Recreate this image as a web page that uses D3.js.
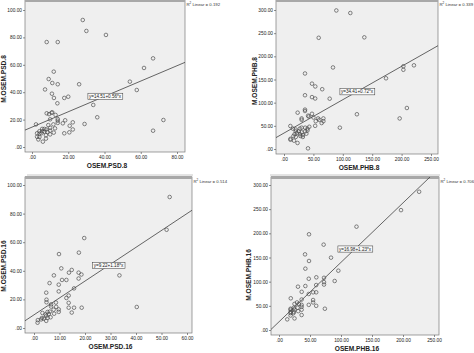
<!DOCTYPE html>
<html>
<head>
<meta charset="utf-8">
<script src="https://d3js.org/d3.v7.min.js"></script>
<style>
  body { margin: 0; background: #fff; }
  svg { display: block; font-family: "Liberation Sans", Arial, sans-serif; }
  .tick text { font-size: 4.8px; fill: #222; }
  .tick line, .domain { stroke: #444; stroke-width: 0.6; }
</style>
</head>
<body>
<div id="chart"></div>
<script>
// Data
const psd8X = [28,30,40.8,8.1,14.2,66.8,61.8,12,9.2,11.2,14.2,26,54,57.8,7.2,11,12.1,17.8,20,14,33.8,36,72.5,66.8,29,2.2,8.1,9.4,10.8,11.2,13,10,14.2,14.2,14.2,18.3,22.5,17,11.8,20.8,22.5,10,12.7,5.6,6.8,7.9,4.1,5.6,6.8,8.5,2.8,4.1,5.2,10,17.8,20.6,7.7,10,2.8,4.1,6,7.7,3.5,9,12];
const psd8Y = [92.7,84.7,81.8,76.6,76.6,64.7,57.7,55,49.6,46.7,45.8,45.8,47.7,41.6,42,38.9,35.8,35.8,36.7,31.9,30.7,21.7,19.7,11.9,16.8,16.5,24.6,24,25,25.3,23.4,20.2,20.4,19.2,17.6,19.5,18,17.3,16.5,15.5,12.8,14,13.6,13.2,13.2,12.8,11.5,11.5,11.2,11,10,9.8,10,12,10,10.7,8.6,9.2,7.5,7.3,3.9,6.1,5.5,16,10.5];

const phb8X = [89,112.8,59,136.6,83.3,35.7,47.6,53.2,65,203,221,203,173.5,35.7,47.6,53,77.7,209,196.7,124,95,40.8,23.2,35.7,35.7,47.6,41,42,30,30,50,58,67,67,54,60,53,64,10.8,15,20,27,30,36,40,43,20,25,30,36,40,18,22,27,32,38,16,20,28,32,11,11,17,23];
const phb8Y = [299,293.5,240,241,176,163,141,135,129,178.5,180.6,171,152.6,116,112,109,108.6,88.5,66,75,46,1.4,78.4,85,82,76,72,70,66,63,68,66,66,60,60,63,50,56,49.6,44,42,44,46,46,44,48,38,38,36,38,40,32,34,32,30,33,28,26,28,26,22,20,18,13];

const psd16X = [53.2,52,19.7,9.8,17.6,10.7,14.8,13.7,17.5,18.6,7.8,17.5,11,12.7,6.1,9.7,33.5,15.7,9.7,4.8,13.6,12.7,4.9,4.9,8.6,13.6,6.7,6.7,8.7,15.7,18.7,13.6,40.3,9.7,9.7,7.7,7.9,14.8,3.3,5.3,4.5,5.8,6.2,3.1,5.3,4.8,1.5,2.8,3.8,4.8,1.4,6.5];
const psd16Y = [91.6,68.7,62.9,51.7,52.7,41.7,40.6,38.7,38.7,37.4,36.8,34.6,33.6,33.6,31.4,30.3,36.8,27.7,25.6,24.7,22.7,21,19.8,18,17.8,17.6,16.5,15,14.8,14.2,14.2,14.2,14.7,13,11.3,12.8,10,10.8,10.5,11.2,9.5,9.8,11.5,7,7,8.5,5.5,6,6.5,5,3.7,7.5];

const phb16X = [226,196.8,125,48.4,72,83.9,42,48.4,42.5,95.7,60.2,72.6,48,89.8,72.6,72.6,30.6,42.5,60,36.6,55,60,48,19,36.5,55,55,29,32,25,60,74,48,36.5,36.5,24,30,18.7,18.7,25,31,18.7,18.7,36.5,24,36.5,25,18.7,13.3,23];
const phb16Y = [286,248,213.8,198,176.6,149.7,156.5,142.8,126.9,122.7,109,108,106,101.4,99,94,89.6,91,93,79,78,78,74.5,65.6,63,62,57,57,54,54,50,44,52,52,48,46,46,44,42,42,39,37.6,35,42,37,31,24,30,22,34.5];

// Regression fits and R squared printed on each panel
const intercepts = [14.51, 34.41, 9.22, 16.98];
const slopes = [0.56, 0.72, 1.18, 1.23];
const rSquared = ["0.192", "0.339", "0.514", "0.706"];

const xTitles = ["OSEM.PSD.8", "OSEM.PHB.8", "OSEM.PSD.16", "OSEM.PHB.16"];
const yTitles = ["M.OSEM.PSD.8", "M.OSEM.PHB.8", "M.OSEM.PSD.16", "M.OSEM.PHB.16"];

const xTicks = [[0, 20, 40, 60, 80], [0, 50, 100, 150, 200, 250], [0, 10, 20, 30, 40, 50, 60], [0, 50, 100, 150, 200, 250]];
const yTicks = [[0, 20, 40, 60, 80, 100], [0, 50, 100, 150, 200, 250, 300], [0, 20, 40, 60, 80, 100], [0, 50, 100, 150, 200, 250, 300]];

const xs = [psd8X, phb8X, psd16X, phb16X];
const ys = [psd8Y, phb8Y, psd16Y, phb16Y];

// Panel layout (pixels)
const layout = [
  { frame: [25, 185, 0, 152], xr: [32, 177], yr: [147, 10], ytx: 4, yty: 79, sep: [27, 193, 175] },
  { frame: [276, 438, 0, 154], xr: [284, 431], yr: [149, 10], ytx: 255, yty: 81, sep: [270, 440, 175] },
  { frame: [25, 192, 177, 333], xr: [34, 187], yr: [328, 185], ytx: 4, yty: 266 },
  { frame: [271, 439, 177, 335], xr: [279, 434], yr: [330, 185], ytx: 249, yty: 275 }
];

const width = 474, height = 353;
const svg = d3.select("#chart").append("svg")
  .attr("width", width)
  .attr("height", height);

const fmt = d => d === 0 ? ".00" : d3.format(".2f")(d);

layout.forEach((L, i) => {
  const [fx0, fx1, fy0, fy1] = L.frame;
  const xDom = [xTicks[i][0], xTicks[i][xTicks[i].length - 1]];
  const yDom = [yTicks[i][0], yTicks[i][yTicks[i].length - 1]];
  const x = d3.scaleLinear().domain(xDom).range(L.xr);
  const y = d3.scaleLinear().domain(yDom).range(L.yr);

  const g = svg.append("g");

  // plot background
  g.append("rect")
    .attr("x", fx0).attr("y", fy0)
    .attr("width", fx1 - fx0).attr("height", fy1 - fy0)
    .attr("fill", "#efefef")
    .attr("stroke", "#7a7a7a")
    .attr("stroke-width", 0.7);
  g.append("rect")
    .attr("x", fx0).attr("y", fy0 - 1)
    .attr("width", fx1 - fx0).attr("height", 3)
    .attr("fill", "#a8a8a8");

  // axes
  g.append("g")
    .attr("transform", `translate(0,${fy1})`)
    .call(d3.axisBottom(x).tickValues(xTicks[i]).tickFormat(fmt).tickSize(2).tickPadding(1.5))
    .call(a => a.select(".domain").remove());
  g.append("g")
    .attr("transform", `translate(${fx0},0)`)
    .call(d3.axisLeft(y).tickValues(yTicks[i]).tickFormat(fmt).tickSize(2).tickPadding(1))
    .call(a => a.select(".domain").remove());

  // clip for the fit line
  const clipId = "clip" + i;
  svg.append("clipPath").attr("id", clipId)
    .append("rect")
    .attr("x", fx0).attr("y", fy0)
    .attr("width", fx1 - fx0).attr("height", fy1 - fy0);

  const fit = v => intercepts[i] + slopes[i] * v;
  const xa = x.invert(fx0), xb = x.invert(fx1);
  g.append("line")
    .attr("clip-path", `url(#${clipId})`)
    .attr("x1", fx0).attr("y1", y(fit(xa)))
    .attr("x2", fx1).attr("y2", y(fit(xb)))
    .attr("stroke", "#404040")
    .attr("stroke-width", 0.8);

  // points
  g.selectAll("circle")
    .data(xs[i].map((v, k) => [v, ys[i][k]]))
    .join("circle")
    .attr("cx", d => x(d[0]))
    .attr("cy", d => y(d[1]))
    .attr("r", 1.8)
    .attr("fill", "none")
    .attr("stroke", "#444")
    .attr("stroke-width", 0.65);

  // equation label on the fit line at frame centre
  const xm = x.invert((fx0 + fx1) / 2);
  const lbl = g.append("g")
    .attr("transform", `translate(${x(xm)},${y(fit(xm))})`);
  const eqText = `y=${intercepts[i]}+${slopes[i]}*x`;
  const t = lbl.append("text")
    .attr("text-anchor", "middle")
    .attr("dy", "0.35em")
    .style("font-size", "4.6px")
    .style("fill", "#222")
    .text(eqText);
  const bb = t.node().getBBox();
  lbl.insert("rect", "text")
    .attr("x", bb.x - 1).attr("y", bb.y - 0.6)
    .attr("width", bb.width + 2).attr("height", bb.height + 1.2)
    .attr("fill", "#fafafa")
    .attr("stroke", "#333")
    .attr("stroke-width", 0.5);

  // R squared note
  const r2 = g.append("text")
    .attr("x", fx1 + 1.5).attr("y", fy0 + 5.5)
    .style("font-size", "4.3px")
    .style("fill", "#333");
  r2.append("tspan").text("R");
  r2.append("tspan").attr("dy", -1.5).style("font-size", "3px").text("2");
  r2.append("tspan").attr("dy", 1.5).text(" Linear = " + rSquared[i]);

  // axis titles
  g.append("text")
    .attr("x", (fx0 + fx1) / 2 + 2)
    .attr("y", fy1 + 16)
    .attr("text-anchor", "middle")
    .style("font-size", "6.6px")
    .style("font-weight", "bold")
    .style("fill", "#222")
    .text(xTitles[i]);
  g.append("text")
    .attr("transform", `translate(${L.ytx + 2.3},${L.yty}) rotate(-90)`)
    .attr("text-anchor", "middle")
    .style("font-size", "6.6px")
    .style("font-weight", "bold")
    .style("fill", "#222")
    .text(yTitles[i]);

  if (L.sep) {
    g.append("line")
      .attr("x1", L.sep[0]).attr("x2", L.sep[1])
      .attr("y1", L.sep[2]).attr("y2", L.sep[2])
      .attr("stroke", "#c8c8c8")
      .attr("stroke-width", 1);
  }
});
</script>
</body>
</html>
